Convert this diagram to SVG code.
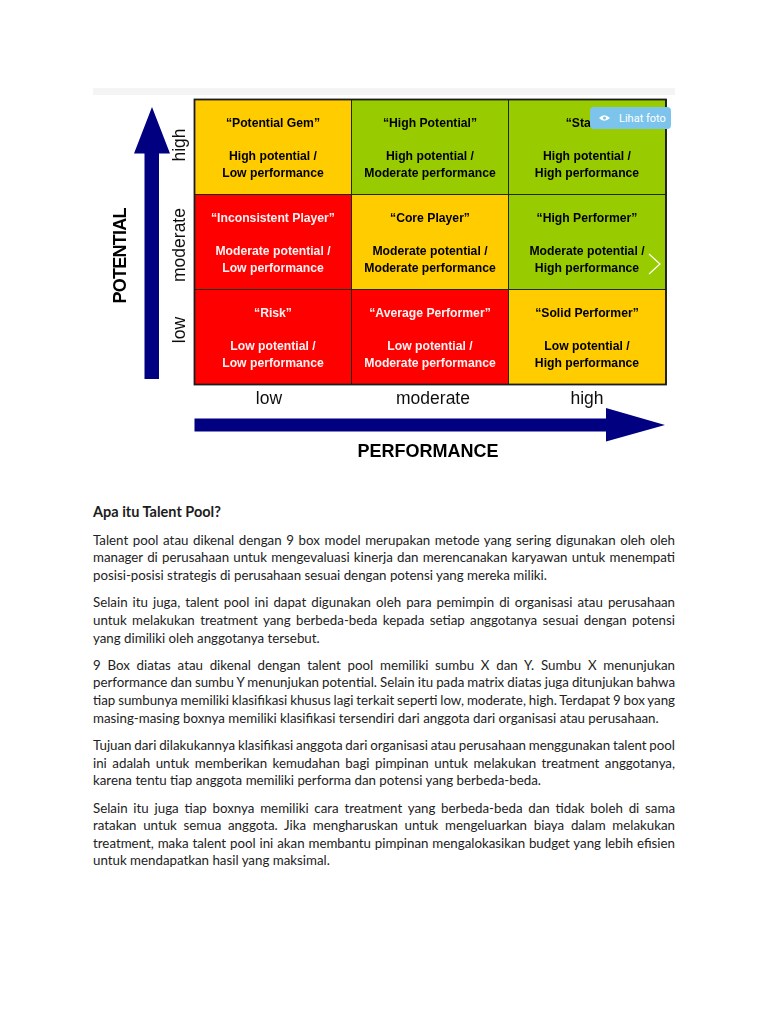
<svg xmlns="http://www.w3.org/2000/svg" width="768" height="1024" viewBox="0 0 768 1024">
<defs><filter id="soft" x="-5%" y="-5%" width="110%" height="110%"><feGaussianBlur stdDeviation="0.45"/></filter></defs>
<style>
.cell{stroke:#1a2a10;stroke-width:1}
.t{font:bold 12.2px "Liberation Sans",Arial,sans-serif;text-anchor:middle}
.k{fill:#000}.w{fill:#fbf3f3}
.ax{font:17.5px "Liberation Sans",Arial,sans-serif;fill:#111;text-anchor:middle}
.axb{font:bold 18px "Liberation Sans",Arial,sans-serif;fill:#000;text-anchor:middle}
.b{font:13.3px Lato,"Open Sans",sans-serif;fill:#222}
.h{font:bold 14.5px Lato,"Open Sans",sans-serif;fill:#1c1c1c}
</style>
<rect width="768" height="1024" fill="#fff"/>
<rect x="93" y="88" width="582" height="7" fill="#f4f4f4"/>
<g filter="url(#soft)">
<g id="box-potential-gem"><rect class="cell" x="194.5" y="99.5" width="157" height="95" fill="#FFCC00"/><text class="t k" x="273" y="126.5">“Potential Gem”</text><text class="t k" x="273" y="160">High potential /</text><text class="t k" x="273" y="176.500">Low performance</text></g>
<g id="box-high-potential"><rect class="cell" x="351.500" y="99.5" width="157" height="95" fill="#99CC00"/><text class="t k" x="430" y="126.5">“High Potential”</text><text class="t k" x="430" y="160">High potential /</text><text class="t k" x="430" y="176.500">Moderate performance</text></g>
<g id="box-stars"><rect class="cell" x="508.500" y="99.5" width="157.500" height="95" fill="#99CC00"/><text class="t k" x="587" y="126.500">“Stars”</text><text class="t k" x="587" y="160">High potential /</text><text class="t k" x="587" y="176.500">High performance</text></g>
<g id="box-inconsistent-player"><rect class="cell" x="194.5" y="194.500" width="157" height="95" fill="#FF0000"/><text class="t w" x="273" y="221.500">“Inconsistent Player”</text><text class="t w" x="273" y="255">Moderate potential /</text><text class="t w" x="273" y="271.500">Low performance</text></g>
<g id="box-core-player"><rect class="cell" x="351.500" y="194.500" width="157" height="95" fill="#FFCC00"/><text class="t k" x="430" y="221.500">“Core Player”</text><text class="t k" x="430" y="255">Moderate potential /</text><text class="t k" x="430" y="271.500">Moderate performance</text></g>
<g id="box-high-performer"><rect class="cell" x="508.500" y="194.500" width="157.500" height="95" fill="#99CC00"/><text class="t k" x="587" y="221.500">“High Performer”</text><text class="t k" x="587" y="255">Moderate potential /</text><text class="t k" x="587" y="271.500">High performance</text></g>
<g id="box-risk"><rect class="cell" x="194.500" y="289.500" width="157" height="95" fill="#FF0000"/><text class="t w" x="273" y="316.500">“Risk”</text><text class="t w" x="273" y="350">Low potential /</text><text class="t w" x="273" y="366.500">Low performance</text></g>
<g id="box-average-performer"><rect class="cell" x="351.500" y="289.500" width="157" height="95" fill="#FF0000"/><text class="t w" x="430" y="316.500">“Average Performer”</text><text class="t w" x="430" y="350">Low potential /</text><text class="t w" x="430" y="366.500">Moderate performance</text></g>
<g id="box-solid-performer"><rect class="cell" x="508.500" y="289.500" width="157.500" height="95" fill="#FFCC00"/><text class="t k" x="587" y="316.500">“Solid Performer”</text><text class="t k" x="587" y="350">Low potential /</text><text class="t k" x="587" y="366.500">High performance</text></g>
<rect x="194.500" y="99.500" width="471.500" height="285" fill="none" stroke="#1a1a1a" stroke-width="1.800"/>
<g id="connectors">
<polygon points="152,107 170,153.500 159,153.500 159,379 144.500,379 144.500,153.500 134,153.500" fill="#000080"/>
<polygon points="194.500,418.500 606,418.500 606,408 665,425 606,441.500 606,431.500 194.500,431.500" fill="#000080"/>
</g>
<g id="axis-y">
<text class="axb" transform="translate(126 255.500) rotate(-90)" textLength="96">POTENTIAL</text>
<text class="ax" transform="translate(185 145) rotate(-90)">high</text>
<text class="ax" transform="translate(185 245) rotate(-90)">moderate</text>
<text class="ax" transform="translate(185 330) rotate(-90)">low</text>
</g>
<g id="axis-x">
<text class="ax" x="269" y="404">low</text>
<text class="ax" x="433" y="404">moderate</text>
<text class="ax" x="587" y="404">high</text>
<text class="axb" x="428" y="457" textLength="141">PERFORMANCE</text>
</g>
</g>
<g id="photo-button">
<rect x="590" y="107" width="81" height="22" rx="4" fill="#7CC4EC"/>
<path d="M599 118q5-5.500 11 0q-6 5.500-11 0z" fill="#fff"/><circle cx="604.500" cy="118" r="1.600" fill="#7CC4EC"/>
<text x="619" y="122" font-family="Roboto,sans-serif" font-size="11" fill="#fff">Lihat foto</text>
</g>
<path id="next-chevron" d="M649 254l11 10l-11 10" fill="none" stroke="#fff" stroke-width="1.200"/>
<g id="article">
<text class="h" x="93" y="516.500">Apa itu Talent Pool?</text>
<text class="b" x="93" y="544.500" word-spacing="1.2" textLength="582">Talent pool atau dikenal dengan 9 box model merupakan metode yang sering digunakan oleh oleh</text>
<text class="b" x="93" y="562" word-spacing="0.8" textLength="582">manager di perusahaan untuk mengevaluasi kinerja dan merencanakan karyawan untuk menempati</text>
<text class="b" x="93" y="580">posisi-posisi strategis di perusahaan sesuai dengan potensi yang mereka miliki.</text>
<text class="b" x="93" y="607" word-spacing="1.64" textLength="582">Selain itu juga, talent pool ini dapat digunakan oleh para pemimpin di organisasi atau perusahaan</text>
<text class="b" x="93" y="624.500" word-spacing="2" textLength="582">untuk melakukan treatment yang berbeda-beda kepada setiap anggotanya sesuai dengan potensi</text>
<text class="b" x="93" y="642.500">yang dimiliki oleh anggotanya tersebut.</text>
<text class="b" x="93" y="669.500" word-spacing="3.33" textLength="582">9 Box diatas atau dikenal dengan talent pool memiliki sumbu X dan Y. Sumbu X menunjukan</text>
<text class="b" x="93" y="687" word-spacing="-0.3" textLength="582">performance dan sumbu Y menunjukan potential. Selain itu pada matrix diatas juga ditunjukan bahwa</text>
<text class="b" x="93" y="705" word-spacing="-0.53" textLength="582">tiap sumbunya memiliki klasifikasi khusus lagi terkait seperti low, moderate, high. Terdapat 9 box yang</text>
<text class="b" x="93" y="722.500">masing-masing boxnya memiliki klasifikasi tersendiri dari anggota dari organisasi atau perusahaan.</text>
<text class="b" x="93" y="749.500" word-spacing="-0.64" textLength="582">Tujuan dari dilakukannya klasifikasi anggota dari organisasi atau perusahaan menggunakan talent pool</text>
<text class="b" x="93" y="767.500" word-spacing="2.1" textLength="582">ini adalah untuk memberikan kemudahan bagi pimpinan untuk melakukan treatment anggotanya,</text>
<text class="b" x="93" y="785">karena tentu tiap anggota memiliki performa dan potensi yang berbeda-beda.</text>
<text class="b" x="93" y="812.500" word-spacing="2.36" textLength="582">Selain itu juga tiap boxnya memiliki cara treatment yang berbeda-beda dan tidak boleh di sama</text>
<text class="b" x="93" y="830" word-spacing="3.3" textLength="582">ratakan untuk semua anggota. Jika mengharuskan untuk mengeluarkan biaya dalam melakukan</text>
<text class="b" x="93" y="847.500" word-spacing="0.46" textLength="582">treatment, maka talent pool ini akan membantu pimpinan mengalokasikan budget yang lebih efisien</text>
<text class="b" x="93" y="865">untuk mendapatkan hasil yang maksimal.</text>
</g>
</svg>
